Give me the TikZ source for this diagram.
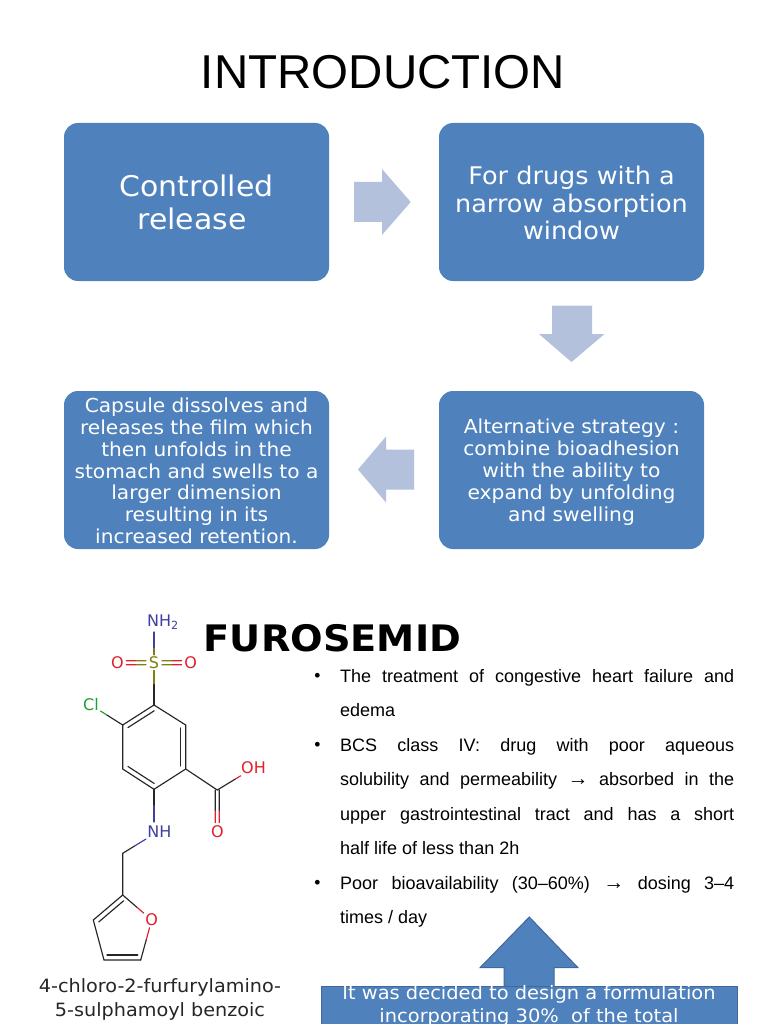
\documentclass[tikz,border=0pt]{standalone}
\usepackage{fontspec}
\setmainfont{Liberation Sans}
\newfontfamily\boxfont[FakeStretch=1.05]{DejaVu Sans}
\newfontfamily\atomfont{DejaVu Sans}
\usetikzlibrary{calc}
\definecolor{boxblue}{HTML}{4F81BD}
\definecolor{boxedge}{HTML}{41689A}
\definecolor{arrowblue}{HTML}{B3C1DC}
\definecolor{atomS}{HTML}{7F7F10}
\definecolor{atomN}{HTML}{3F3F9F}
\definecolor{atomO}{HTML}{E0202C}
\definecolor{atomCl}{HTML}{1F9F30}
\tikzset{
  flowbox/.style={fill=boxblue,rounded corners=14pt,minimum width=265pt,minimum height=158pt,inner sep=0pt},
  flowtext/.style={text=white,font=\boxfont,align=center,inner sep=0pt},
  flowarrow/.style={fill=arrowblue},
  atom/.style={inner sep=1.5pt,font=\fontsize{16}{18}\atomfont},
  bond/.style={line width=1.15pt,line cap=round,black!85},
  bullettext/.style={anchor=north west,inner sep=0pt,text width=394pt,align=justify,font=\fontsize{18}{34.5}\selectfont},
  bulletdot/.style={inner sep=0pt,font=\fontsize{17.5}{18}\selectfont},
}
% bond with two colours, and the double bonds
\newcommand{\hbond}[4]{\draw[bond,#3] (#1) -- ($(#1)!.5!(#2)$); \draw[bond,#4] ($(#1)!.5!(#2)$) -- (#2);}
\newcommand{\inbond}[2]{\draw[bond,shorten >=3pt,shorten <=3pt] ($(#1)!5pt!-90:(#2)$) -- ($(#2)!5pt!90:(#1)$);}
\newcommand{\dblbond}[4]{
  \foreach \s in {1,-1}{
    \draw[bond,#3] ($(#1)!\s*2pt!90:(#2)$) -- ($($(#1)!.5!(#2)$)!\s*2pt!90:(#2)$);
    \draw[bond,#4,shorten >=9pt] ($($(#1)!.5!(#2)$)!\s*2pt!90:(#2)$) -- ($(#2)!\s*2pt!-90:(#1)$);
  }}
\newcommand{\bigto}{{\fontsize{21}{34.5}\selectfont →}}
\begin{document}
\begin{tikzpicture}[x=1pt,y=-1pt]
  \useasboundingbox[fill=white] (0,0) rectangle (768,1024);
  \node[font=\fontsize{47.5}{50}\selectfont,inner sep=0pt] (title) at (383,72) {INTRODUCTION};
  % flow of boxes
  \node[flowbox] (control) at (196.5,202) {};
  \node[flowbox] (window) at (571.5,202) {};
  \node[flowbox] (strategy) at (571.5,470) {};
  \node[flowbox] (capsule) at (196.5,470) {};
  \node[flowtext,font=\fontsize{28.5}{33}\boxfont] at (196.5,202.5) {Controlled\\release\hspace*{9pt}};
  \node[flowtext,font=\fontsize{24.3}{27.5}\boxfont] at (571.5,203) {For drugs with a\\narrow absorption\\window};
  \node[flowtext,font=\fontsize{19.3}{22}\boxfont] at (571.5,472) {Alternative strategy :\\combine bioadhesion\\with the ability to\\expand by unfolding\\and swelling};
  \node[flowtext,font=\fontsize{19.2}{21.8}\boxfont] at (196.5,471) {Capsule dissolves and\\releases the film which\\then unfolds in the\\stomach and swells to a\\larger dimension\\resulting in its\\increased retention.};
  \fill[flowarrow] (354,182) -- (382,182) -- (382,169) -- (410.7,202) -- (382,235) -- (382,222) -- (354,222) -- cycle;
  \fill[flowarrow] (552,305.7) -- (592,305.7) -- (592,334) -- (604.5,334) -- (571.5,362) -- (539,334) -- (552,334) -- cycle;
  \fill[flowarrow] (358,469.5) -- (386,436.5) -- (386,449.5) -- (414,449.5) -- (414,489.5) -- (386,489.5) -- (386,502.5) -- cycle;
  % molecule
  \coordinate (ca) at (154,705);
  \coordinate (cb) at (185.7,725);
  \coordinate (cc) at (185.7,769);
  \coordinate (cd) at (154,789.3);
  \coordinate (ce) at (122.7,769);
  \coordinate (cf) at (122.7,725);
  \coordinate (cg) at (217.3,790);
  \coordinate (ch) at (122.7,853.3);
  \coordinate (fa) at (122.7,895);
  \coordinate (fb) at (93.3,920);
  \coordinate (fc) at (104,960);
  \coordinate (fd) at (140.7,960);
  \node[atom,text=atomS] (sulf) at (154,662.7) {S};
  \node[atom,text=atomN] (amide) at (163,622) {NH\textsubscript{2}};
  \coordinate (amidein) at (154,632);
  \node[atom,text=atomO] (oxa) at (117.3,662.7) {O};
  \node[atom,text=atomO] (oxb) at (190.7,662.7) {O};
  \node[atom,text=atomCl] (chlor) at (91,705) {Cl};
  \node[atom,text=atomO] (hydrox) at (253.5,768) {OH};
  \node[atom,text=atomO] (oxc) at (217.3,831.7) {O};
  \node[atom,text=atomN] (amine) at (159.3,831.7) {NH};
  \coordinate (aminein) at (154,822);
  \coordinate (amineout) at (146,839);
  \node[atom,text=atomO] (oxf) at (151.7,920) {O};
  \draw[bond] (ca) -- (cb) -- (cc) -- (cd) -- (ce) -- (cf) -- (ca);
  \inbond{cf}{ca}
  \inbond{cb}{cc}
  \inbond{cd}{ce}
  \hbond{ca}{sulf}{}{atomS}
  \hbond{sulf}{amidein}{atomS}{atomN}
  \hbond{cf}{chlor}{}{atomCl}
  \hbond{cd}{aminein}{}{atomN}
  \hbond{amineout}{ch}{atomN}{}
  \hbond{cg}{hydrox}{}{atomO}
  \dblbond{sulf}{oxa}{atomS,shorten <=8pt}{atomO}
  \dblbond{sulf}{oxb}{atomS,shorten <=8pt}{atomO}
  \dblbond{cg}{oxc}{}{atomO}
  \draw[bond] (cc) -- (cg) (ch) -- (fa) (fa) -- (fb) -- (fc) -- (fd);
  \hbond{fa}{oxf}{}{atomO}
  \hbond{oxf}{fd}{atomO}{}
  \inbond{fb}{fa}
  \inbond{fd}{fc}
  \node[font=\fontsize{18.3}{24.5}\boxfont,align=center,anchor=north,inner sep=0pt,text=black!85] (name) at (160,978) {4-chloro-2-furfurylamino-\\5-sulphamoyl benzoic\\acid};
  % drug text
  \node[font=\fontsize{36.5}{38}\boxfont\bfseries,inner sep=0pt] (drug) at (332.5,638) {FUROSEMID};
  \node[bullettext] (bulleta) at (340,669) {The treatment of congestive heart failure and\linebreak edema};
  \node[bullettext] (bulletb) at (340,738) {BCS class IV: drug with poor aqueous\linebreak solubility and permeability \bigto{} absorbed in the\linebreak upper gastrointestinal tract and has a short\linebreak half life of less than 2h};
  \node[bullettext] (bulletc) at (340,876) {Poor bioavailability (30–60\%) \bigto{} dosing 3–4\linebreak times / day};
  \node[bulletdot] (dota) at (317.5,677) {•};
  \node[bulletdot] (dotb) at (317.5,746) {•};
  \node[bulletdot] (dotc) at (317.5,884) {•};
  % decision box
  \filldraw[fill=boxblue,draw=boxedge,line width=1pt] (529.3,917) -- (578,967.7) -- (554,967.7) -- (554,990) -- (504,990) -- (504,967.7) -- (480,967.7) -- cycle;
  \node[fill=boxblue,draw=boxedge,line width=1pt,minimum width=416pt,minimum height=80pt,inner sep=0pt,anchor=north] (decide) at (529,986) {};
  \node[flowtext,anchor=north,font=\fontsize{18.5}{23}\boxfont] (decidetext) at (529,985) {It was decided to design a formulation\\incorporating 30\%\ \ of the total};
\end{tikzpicture}
\end{document}
